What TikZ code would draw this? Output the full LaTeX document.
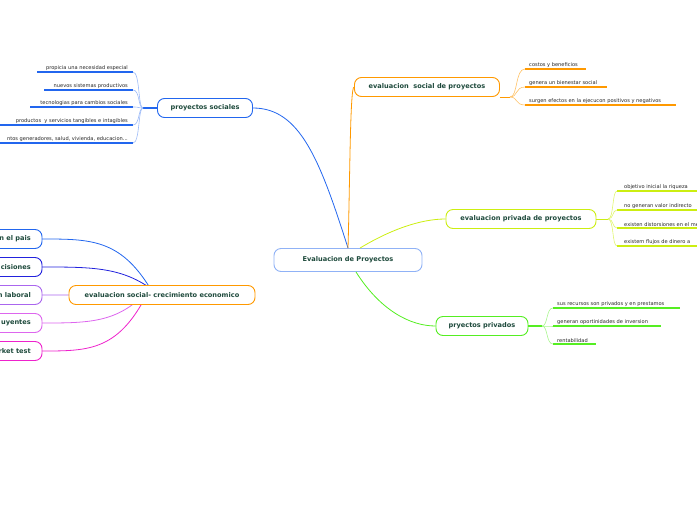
\documentclass[tikz,border=0pt]{standalone}
\usepackage{fontspec}
\setmainfont{DejaVu Sans}
\begin{document}
\begin{tikzpicture}[x=1pt,y=-1pt,
  topic/.style={draw=#1,line width=0.9pt,rounded corners=7pt,fill=white,inner sep=0pt,minimum height=19pt,text=txt,font=\fontsize{6.6}{8}\selectfont\bfseries},
  leaf/.style={font=\fontsize{5.1}{6}\selectfont,text=black!85,inner sep=1pt},
  ul/.style={draw=#1,line width=1.3pt},
  con/.style={draw=#1,line width=0.8pt}]
\definecolor{txt}{HTML}{1E4A3C}
\definecolor{cblue}{HTML}{2266EE}
\definecolor{corange}{HTML}{FF9900}
\definecolor{cyel}{HTML}{CCEE11}
\definecolor{cgreen}{HTML}{55EE22}
\definecolor{cdb}{HTML}{2222DD}
\definecolor{cpur}{HTML}{AA66EE}
\definecolor{cvio}{HTML}{DD66EE}
\definecolor{cmag}{HTML}{EE22CC}
\useasboundingbox (0,0) rectangle (697,520);
\clip (0,0) rectangle (697,520);
% left nodes (drawn first so the topic box covers the line ends)
\coordinate (scj) at (150,288);
\foreach \y/\col/\t [count=\i] in {239/cblue/n el pais,267/cdb/cisiones,295/cpur/n laboral,323/cvio/uyentes,351/cmag/rket test}{
  \draw[\col,line width=0.9pt,rounded corners=7pt,fill=white] (-20,\y-9.5) rectangle (42,\y+9.5);
  \node[font=\fontsize{6.6}{8}\selectfont\bfseries,text=txt,anchor=east,inner sep=0pt] (ln\i) at (31,\y) {\t};
  \coordinate (lna\i) at (42,\y);
  \draw[con=\col] (lna\i) .. controls (90,\y) and (120,\y) .. (scj);
}
% center
\node[topic=cblue!50,minimum width=148pt,minimum height=23pt] (c) at (348,260) {Evaluacion de Proyectos};
\node[topic=cblue,minimum width=95pt] (ps) at (205,108) {proyectos sociales};
\node[topic=corange,minimum width=145pt] (es) at (427,87) {evaluacion\ \ social de proyectos};
\node[topic=cyel,minimum width=150pt] (ep) at (521,219) {evaluacion privada de proyectos};
\node[topic=cgreen,minimum width=92pt] (pp) at (482,326) {pryectos privados};
\node[topic=corange,minimum width=186pt] (sc) at (162,295) {evaluacion social- crecimiento economico};
\draw[con=cblue] (c.north) .. controls (320,160) and (300,108) .. (ps.east);
\draw[con=corange] (c.north) .. controls (350,180) and (350,87) .. (es.west);
\draw[con=cyel] ([xshift=12pt]c.north) .. controls (390,230) and (420,219) .. (ep.west);
\draw[con=cgreen] ([xshift=8pt]c.south) .. controls (380,310) and (410,326) .. (pp.west);
% social leaves
\coordinate (psj) at (143,108);
\draw[con=cblue,line width=1.2pt] (ps.west) -- (psj);
\foreach \y/\xl/\t [count=\i] in {72/37/propicia una necesidad especial,90/44/nuevos sistemas productivos,107/30/tecnologias para cambios sociales,125/0/productos\ \ y servicios tangibles e intagibles,143/0/{ntos generadores, salud, vivienda, educacion...}}{
  \node[leaf,anchor=south east] (psl\i) at (129,\y) {\t};
  \coordinate (psa\i) at (133,\y);
  \draw[ul=cblue] (\xl,\y) -- (psa\i);
  \draw[con=cblue!45,line width=0.6pt] (psj) .. controls (138,108) and (140,\y) .. (psa\i);
}
% evaluacion social leaves
\coordinate (esj) at (510,97);
\draw[con=corange] (es.east) ++(0,10) -- (esj);
\foreach \y/\xr/\t [count=\i] in {69/586/costos y beneficios,87/607/genera un bienestar social,105/676/surgen efectos en la ejecucon positivos y negativos}{
  \node[leaf,anchor=south west] (esl\i) at (528,\y) {\t};
  \coordinate (esa\i) at (525,\y);
  \draw[ul=corange] (esa\i) -- (\xr,\y);
  \draw[con=corange!60,line width=0.6pt] (esj) .. controls (518,97) and (515,\y) .. (esa\i);
}
% privada leaves
\coordinate (epj) at (608,219);
\draw[con=cyel] (ep.east) -- (epj);
\foreach \y/\t [count=\i] in {191/objetivo inicial la riqueza,210/no generan valor indirecto,228/existen distorsiones en el mercado,246/existem flujos de dinero a}{
  \node[leaf,anchor=south west] (epl\i) at (623,\y) {\t};
  \coordinate (epa\i) at (617,\y);
  \draw[ul=cyel] (epa\i) -- (700,\y);
  \draw[con=cyel!60,line width=0.6pt] (epj) .. controls (614,219) and (612,\y) .. (epa\i);
}
% privados leaves
\coordinate (ppj) at (542,326);
\draw[con=cgreen,line width=1.2pt] (pp.east) -- (ppj);
\foreach \y/\xr/\t [count=\i] in {308/680/sus recursos son privados y en prestamos,326/661/generan oportinidades de inversion,344/596/rentabilidad}{
  \node[leaf,anchor=south west] (ppl\i) at (556,\y) {\t};
  \coordinate (ppa\i) at (553,\y);
  \draw[ul=cgreen] (ppa\i) -- (\xr,\y);
  \draw[con=cgreen!50,line width=0.6pt] (ppj) .. controls (548,326) and (546,\y) .. (ppa\i);
}
\end{tikzpicture}
\end{document}
